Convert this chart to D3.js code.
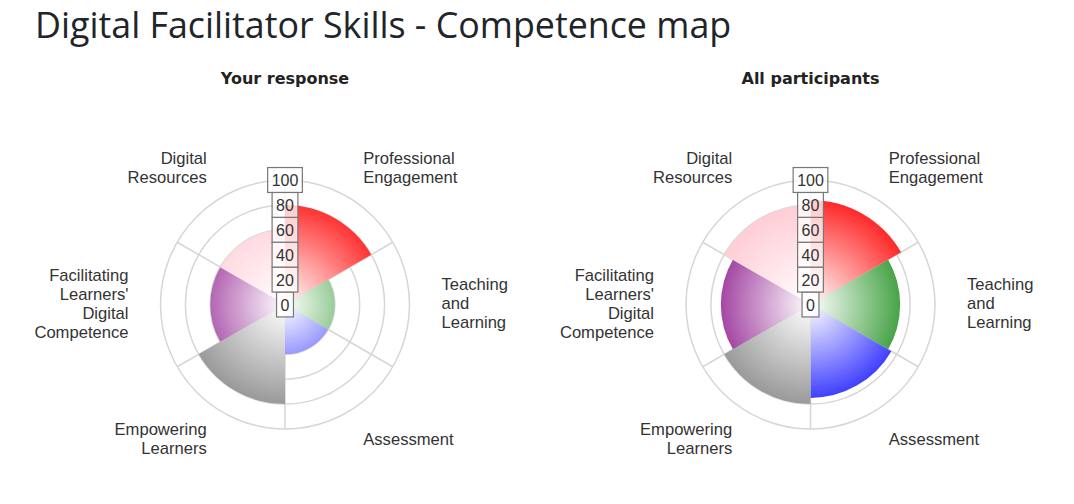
<!DOCTYPE html>
<html>
<head>
<meta charset="utf-8">
<script src="https://cdn.jsdelivr.net/npm/d3@7"></script>
<style>
  body { margin: 0; background: #fff; }
  svg { display: block; }
</style>
</head>
<body>
<svg id="chart" width="1074" height="504"></svg>
<script>
// data
const categories = [
  ["Professional", "Engagement"],
  ["Teaching", "and", "Learning"],
  ["Assessment"],
  ["Empowering", "Learners"],
  ["Facilitating", "Learners'", "Digital", "Competence"],
  ["Digital", "Resources"]
];
const sectorColors = ["red", "green", "blue", "gray", "purple", "pink"];
const yourResponse = [80, 40, 40, 80, 60, 60];
const allParticipants = [84, 72, 75, 80, 72, 80];
const tickValues = [0, 20, 40, 60, 80, 100];
const chartTitles = ["Your response", "All participants"];

const svg = d3.select("#chart");

svg.append("text")
    .attr("x", 35)
    .attr("y", 38)
    .attr("font-family", "'Open Sans', sans-serif")
    .attr("font-size", 35.8)
    .attr("fill", "#212529")
    .text("Digital Facilitator Skills - Competence map");

function drawPolar(cx, cy, title, values, idx){
    let r = d3.scaleLinear().domain([0, 100]).range([0, 124.5]);
    let angle = d3.scaleLinear().domain([0, categories.length]).range([0, 2 * Math.PI]);
    let arc = d3.arc().innerRadius(0);

    svg.append("text")
        .attr("x", cx)
        .attr("y", 84)
        .attr("text-anchor", "middle")
        .attr("font-family", "'DejaVu Sans', Verdana, sans-serif")
        .attr("font-weight", "bold")
        .attr("font-size", 16)
        .attr("fill", "#222")
        .text(title);

    let g = svg.append("g").attr("transform", `translate(${cx},${cy})`);

    // gradients, white at center to full colour at the outer ring
    let defs = svg.append("defs");
    sectorColors.forEach((c, i) => {
        let grad = defs.append("radialGradient")
            .attr("id", "grad-" + idx + "-" + i)
            .attr("gradientUnits", "userSpaceOnUse")
            .attr("cx", 0).attr("cy", 0)
            .attr("r", r(100));
        grad.append("stop").attr("offset", "0%").attr("stop-color", "white");
        grad.append("stop").attr("offset", "100%").attr("stop-color", c);
    });

    // grid rings and spokes
    for (let t of tickValues.slice(1)){
        g.append("circle")
            .attr("r", r(t))
            .attr("fill", "none")
            .attr("stroke", "#d6d6d6")
            .attr("stroke-width", 1.5);
    }
    for (let i = 0; i < categories.length; i++){
        let a = angle(i);
        g.append("line")
            .attr("x1", 0).attr("y1", 0)
            .attr("x2", r(100) * Math.sin(a))
            .attr("y2", -r(100) * Math.cos(a))
            .attr("stroke", "#d6d6d6")
            .attr("stroke-width", 1.5);
    }

    // sectors
    values.forEach((v, i) => {
        g.append("path")
            .attr("d", arc({outerRadius: r(v), startAngle: angle(i), endAngle: angle(i + 1)}))
            .attr("fill", "url(#grad-" + idx + "-" + i + ")");
    });

    // category labels
    categories.forEach((lines, i) => {
        let a = angle(i + 0.5);
        let lr = r(100) + 32;
        let x = lr * Math.sin(a), y = -lr * Math.cos(a);
        let anchor = Math.sin(a) > 0.01 ? "start" : (Math.sin(a) < -0.01 ? "end" : "middle");
        let txt = g.append("text")
            .attr("x", x)
            .attr("y", y)
            .attr("text-anchor", anchor)
            .attr("font-family", "'Liberation Sans', Arial, sans-serif")
            .attr("font-size", 16.6)
            .attr("fill", "#333");
        lines.forEach((l, k) => {
            txt.append("tspan")
                .attr("x", x)
                .attr("y", y + (k - (lines.length - 1) / 2) * 19 + 4.5)
                .text(l);
        });
    });

    // tick value boxes
    for (let t of tickValues){
        let box = g.append("g").attr("transform", `translate(0,${-r(t)})`);
        let rect = box.append("rect");
        let label = box.append("text")
            .attr("text-anchor", "middle")
            .attr("y", 6)
            .attr("font-family", "'Liberation Sans', Arial, sans-serif")
            .attr("font-size", 16)
            .attr("fill", "#333")
            .text(t);
        let w = label.node().getComputedTextLength() + 8;
        let h = r(20);
        rect.attr("x", -w / 2)
            .attr("y", -h / 2)
            .attr("width", w)
            .attr("height", h)
            .attr("fill", "white")
            .attr("fill-opacity", 0.75)
            .attr("stroke", "#777")
            .attr("stroke-width", 1.2);
    }
}

drawPolar(285, 304.5, chartTitles[0], yourResponse, 0);
drawPolar(810.5, 304.5, chartTitles[1], allParticipants, 1);
</script>
</body>
</html>
